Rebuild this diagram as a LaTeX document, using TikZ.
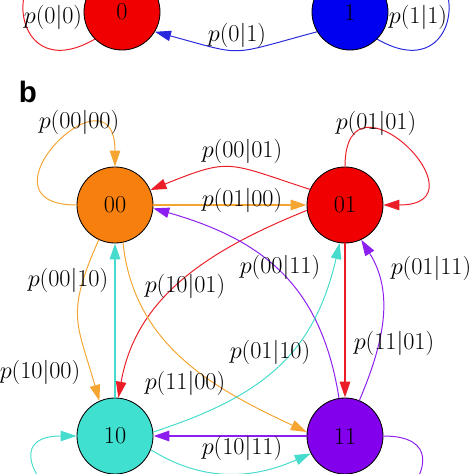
\documentclass[tikz,border=0pt]{standalone}
\usepackage{fontspec}
\usepackage{amsmath}
\usepackage{tikz}
\usetikzlibrary{arrows.meta}
\newfontfamily\panelfont{Liberation Sans}

\definecolor{nodeorange}{RGB}{247,127,14}
\definecolor{nodered}{RGB}{240,0,0}
\definecolor{nodeturq}{RGB}{64,224,208}
\definecolor{nodepurple}{RGB}{130,0,235}
\definecolor{nodeblue}{RGB}{0,0,240}
\definecolor{lineorange}{RGB}{245,165,50}
\definecolor{linered}{RGB}{235,30,40}
\definecolor{lineturq}{RGB}{70,220,205}
\definecolor{linepurple}{RGB}{140,30,240}
\definecolor{lineblue}{RGB}{40,40,220}

\begin{document}
\begin{tikzpicture}[
  x=0.025cm, y=0.025cm,
  state/.style={
    circle, draw=black, line width=0.6pt,
    minimum size=1.9cm, inner sep=0pt,
    font=\LARGE
  },
  lbl/.style={font=\LARGE, inner sep=0pt},
  arr/.style={-{Triangle[length=4mm, width=2.6mm]}, line width=0.7pt},
  straight/.style={arr, line width=1.4pt},
  selfloop/.style={arr, distance=2.675cm}
]
\useasboundingbox (0,0) rectangle (474,474);
\clip (0,0) rectangle (474,474);

% panel a
\node[state, fill=nodered] (n0) at (122,462) {0};
\node[state, fill=nodeblue] (n1) at (350,462) {1};

\draw[arr, color=lineblue] (n1.211) to[out=195, in=-15, looseness=1.5] (n0.329);
\draw[arr, color=linered] (n0.225) to[out=210, in=150, distance=2.7cm] (n0.135);
\draw[arr, color=lineblue] (n1.315) to[out=-30, in=30, distance=2.7cm] (n1.45);

\node[lbl] (l00) at (53,457) {$p(0|0)$};
\node[lbl] (l11) at (418,457) {$p(1|1)$};
\node[lbl] (l01) at (237,439) {$p(0|1)$};

% panel b
\node[font=\panelfont\bfseries\fontsize{21}{21}\selectfont] (pb) at (28,382) {b};

\node[state, fill=nodeorange] (s00) at (115,269) {00};
\node[state, fill=nodered] (s01) at (345,269) {01};
\node[state, fill=nodeturq] (s10) at (115,38) {10};
\node[state, fill=nodepurple] (s11) at (345,38) {11};

% self loops
\draw[selfloop, color=lineorange] (s00.west) to[out=180, in=90] (s00.north);
\draw[selfloop, color=linered] (s01.north) to[out=90, in=0] (s01.east);
\draw[selfloop, color=lineturq] (s10.south) to[out=270, in=180] (s10.west);
\draw[selfloop, color=linepurple] (s11.east) to[out=0, in=270] (s11.south);

% straight edges
\draw[straight, color=lineorange] (s00) -- (s01);
\draw[straight, color=lineturq] (s10) -- (s00);
\draw[straight, color=linered] (s01) -- (s11);
\draw[straight, color=linepurple] (s11) -- (s10);

% curved edges
\draw[arr, color=linered] (s01.156) to[out=162, in=22, looseness=1.4] (s00.23);
\draw[arr, color=linered] (s01.188) to[out=202, in=80] (s10.85);
\draw[arr, color=lineorange] (s00.282) to[out=-84, in=155] (s11.174);
\draw[arr, color=lineorange] (s00.245) to[out=246, in=106, looseness=1.3] (s10.114);
\draw[arr, color=linepurple] (s11.99) to[out=99, in=-16, looseness=1.1] (s00.355);
\draw[arr, color=lineturq] (s10.6) to[out=18, in=257, looseness=1.1] (s01.262);
\draw[arr, color=linepurple] (s11.68) to[out=67, in=-58] (s01.295);
\draw[arr, color=lineturq] (s10.339) to[out=-32, in=204] (s11.207);

% labels
\node[lbl] (p0000) at (79,352) {$p(00|00)$};
\node[lbl] (p0101) at (376,351) {$p(01|01)$};
\node[lbl] (p0001) at (242,323) {$p(00|01)$};
\node[lbl] (p0100) at (242,274) {$p(01|00)$};
\node[lbl] (p0010) at (68,194) {$p(00|10)$};
\node[lbl] (p1001) at (185,188) {$p(10|01)$};
\node[lbl] (p0011) at (280,207) {$p(00|11)$};
\node[lbl] (p0111) at (431,206) {$p(01|11)$};
\node[lbl] (p1101) at (394,131) {$p(11|01)$};
\node[lbl] (p1000) at (40,102) {$p(10|00)$};
\node[lbl] (p0110) at (270,122) {$p(01|10)$};
\node[lbl] (p1100) at (185,91) {$p(11|00)$};
\node[lbl] (p1011) at (242,26) {$p(10|11)$};

\end{tikzpicture}
\end{document}
